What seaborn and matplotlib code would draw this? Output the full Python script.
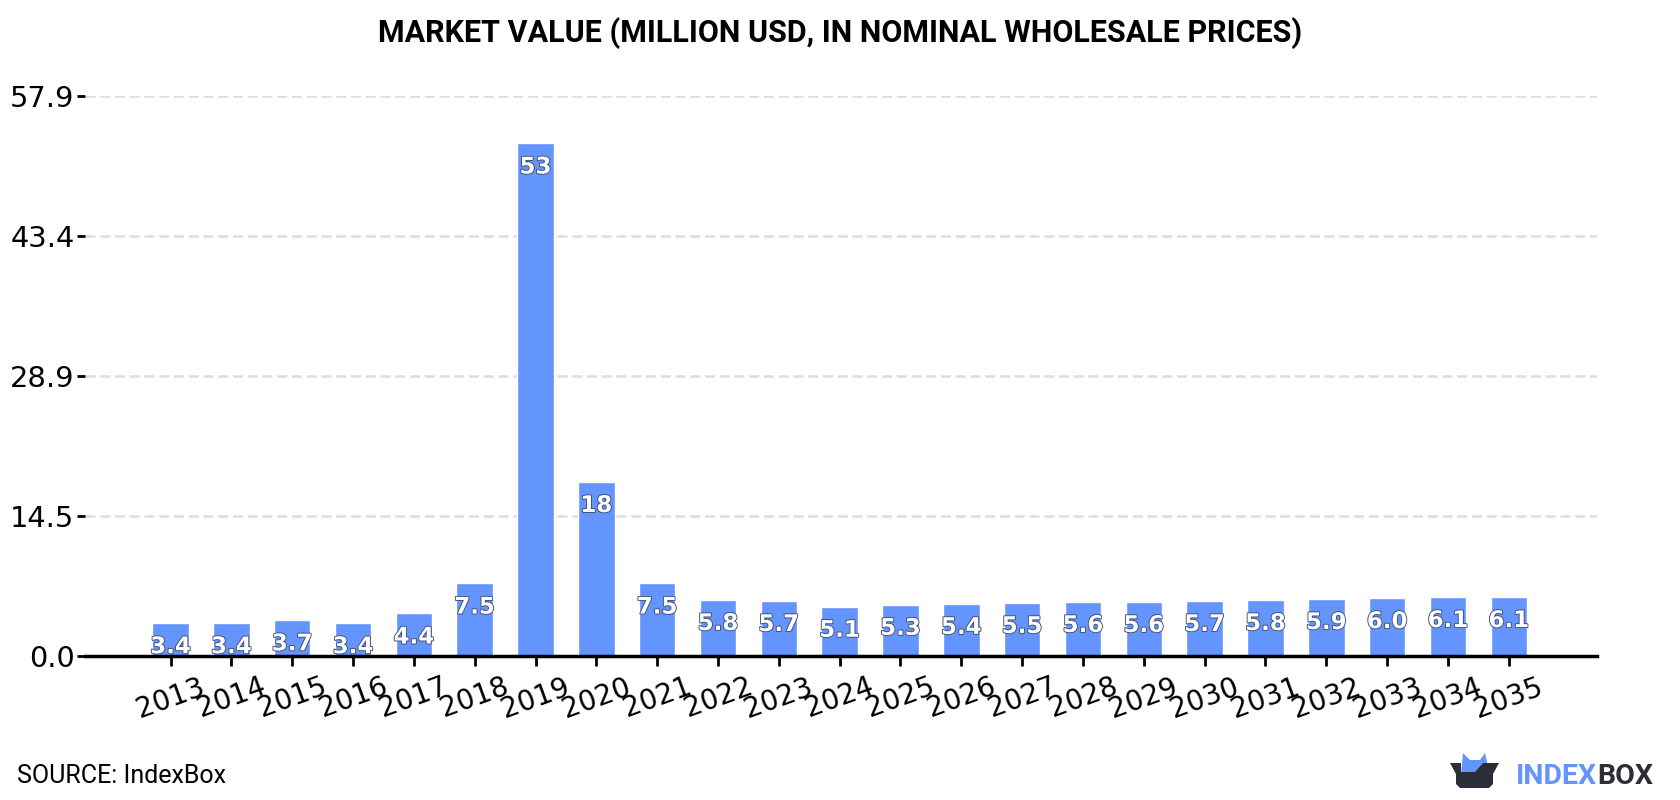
import matplotlib
matplotlib.use("Agg")
import matplotlib.pyplot as plt
import matplotlib.patheffects as pe
from matplotlib.patches import Polygon
import pandas as pd
import seaborn as sns

years = [str(y) for y in range(2013, 2036)]
value_labels = ["3.4", "3.4", "3.7", "3.4", "4.4", "7.5", "53", "18", "7.5", "5.8", "5.7", "5.1",
                "5.3", "5.4", "5.5", "5.6", "5.6", "5.7", "5.8", "5.9", "6.0", "6.1", "6.1"]
values = [float(v) for v in value_labels]
y_ticks = [0.0, 14.5, 28.9, 43.4, 57.9]
title = "MARKET VALUE (MILLION USD, IN NOMINAL WHOLESALE PRICES)"
source = "SOURCE: IndexBox"

BLUE = "#6495ff"
DARK = "#2b2d38"

sns.set_theme(style="white")
W, H = 1680, 800
fig = plt.figure(figsize=(W / 100, H / 100), dpi=100)
ax = fig.add_axes([85 / W, 1 - 656 / H, (1597 - 85) / W, (656 - 96) / H])

table = pd.DataFrame({"year": years, "value": values})
sns.barplot(data=table, x="year", y="value", color=BLUE, saturation=1, width=0.6, ax=ax, zorder=3)

ax.set_xlim(-1.406, 23.45)
ax.set_ylim(0, 57.9)
ax.set_xlabel("")
ax.set_ylabel("")
ax.set_yticks(y_ticks)
ax.set_yticklabels([f"{t:.1f}" for t in y_ticks], fontsize=20.8, family="DejaVu Sans", color="black")
ax.grid(axis="y", color="#dddddd", linestyle=(0, (4, 1.9)), linewidth=1.8)
ax.set_axisbelow(True)
ax.tick_params(axis="y", length=5.8, width=2, color="black", pad=1.8, left=True)
ax.tick_params(axis="x", length=7, width=2, color="black", pad=5, bottom=True)
plt.setp(ax.get_xticklabels(), rotation=20, fontsize=20, family="DejaVu Sans", color="black", ha="center")
for side in ("top", "right", "left"):
    ax.spines[side].set_visible(False)
ax.spines["bottom"].set_linewidth(2.5)
ax.spines["bottom"].set_color("black")
ax.spines["bottom"].set_zorder(5)

# White value labels sit just under each bar top.
for i, (v, lab) in enumerate(zip(values, value_labels)):
    ax.annotate(lab, (i, v), xytext=(0, -17), textcoords="offset points", ha="center", va="center",
                fontsize=16.5, fontweight="bold", family="DejaVu Sans", color="white", zorder=6,
                path_effects=[pe.withStroke(linewidth=1.3, foreground="#3f4d70")])

fig.text(0.5 * (378 + 1302) / W, 1 - 33 / H, title, ha="center", va="center", fontsize=22,
         fontweight="bold", family="Roboto", color="black")
fig.text(17 / W, 1 - 776 / H, source, ha="left", va="center", fontsize=18, family="Roboto", color="black")

# Brand mark and wordmark in the lower right corner.
logo = fig.add_axes([0, 0, 1, 1], facecolor="none")
logo.set_xlim(0, W)
logo.set_ylim(H, 0)
logo.axis("off")
logo.add_patch(Polygon([[1461, 775], [1463, 753], [1470, 760], [1480, 760], [1485, 753], [1488, 766],
                        [1478, 778], [1461, 778]], closed=True, fc=BLUE, ec="none"))
logo.add_patch(Polygon([[1450, 763], [1461, 763], [1461, 772], [1475, 772], [1483, 763], [1499, 763],
                        [1493, 774], [1493, 784], [1489, 788], [1460, 788], [1456, 784], [1456, 774]],
                       closed=True, fc=DARK, ec="none"))
word = logo.text(1516, 776, "INDEX", ha="left", va="center", fontsize=20.5, fontweight="bold",
                 family="Roboto", color=BLUE)
fig.canvas.draw()
end = word.get_window_extent().x1
logo.text(end, 776, "BOX", ha="left", va="center", fontsize=20.5, fontweight="bold",
          family="Roboto", color=DARK)

fig.savefig("out.png", dpi=100)
